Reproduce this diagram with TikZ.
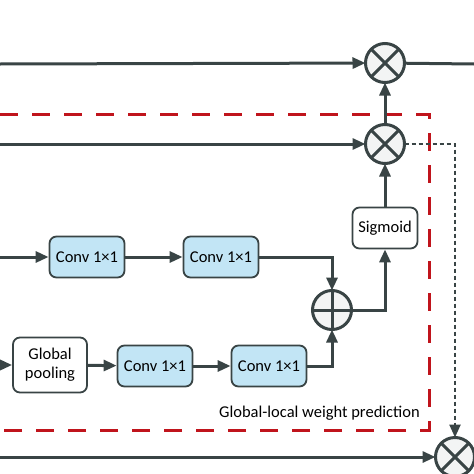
\documentclass[tikz,border=0pt]{standalone}
\usepackage{fontspec}
\setmainfont{Carlito}
\usetikzlibrary{arrows.meta}
\definecolor{ln}{HTML}{394445}
\definecolor{bluef}{HTML}{C2E5F5}
\definecolor{redd}{HTML}{C0141C}
\tikzset{
  flow/.style={draw=ln,line width=3pt,-{Triangle[length=13pt,width=11pt]}},
  plain/.style={draw=ln,line width=3pt},
  opnode/.style={circle,draw=ln,line width=3pt,fill=white!94!ln,minimum size=39pt,inner sep=0pt,outer sep=0pt},
  convbox/.style={rectangle,rounded corners=7pt,draw=ln,line width=1.8pt,fill=bluef,minimum width=75pt,minimum height=41pt,inner sep=1pt,font=\fontsize{16.5}{18}\selectfont},
  whitebox/.style={rectangle,rounded corners=7pt,draw=ln,line width=1.8pt,fill=white,minimum width=65pt,minimum height=41pt,inner sep=1pt,align=center,font=\fontsize{16.5}{19}\selectfont},
  reddash/.style={draw=redd,line width=3pt,dash pattern=on 18pt off 14pt},
  dotline/.style={draw=ln,line width=2.4pt,dash pattern=on 4pt off 3pt,-{Triangle[length=13pt,width=11pt]}}
}
\begin{document}
\begin{tikzpicture}[x=1pt,y=-1pt]
\useasboundingbox (0,0) rectangle (474,474);
% red dashed frame
\draw[reddash] (0,114) -- (429,114) -- (429,430) -- (0,430);
% nodes
\node[opnode] (m1) at (385,63) {};
\node[opnode] (m2) at (385,144) {};
\node[opnode] (m3) at (455,457) {};
\node[opnode] (p1) at (332,310) {};
\foreach \n in {m1,m2,m3}{
  \draw[ln,line width=3pt] (\n.north east) -- (\n.south west) (\n.north west) -- (\n.south east);
}
\draw[ln,line width=3pt] (p1.north) -- (p1.south) (p1.west) -- (p1.east);
\node[whitebox] (sig) at (385,228) {Sigmoid};
\node[convbox] (c1) at (87,257) {Conv 1×1};
\node[convbox] (c2) at (221,257) {Conv 1×1};
\node[whitebox,minimum width=74pt,minimum height=55pt] (gp) at (50,365) {Global\\pooling};
\node[convbox] (c3) at (155,366) {Conv 1×1};
\node[convbox] (c4) at (269,366) {Conv 1×1};
\node[anchor=south east,inner sep=0pt,font=\fontsize{16.5}{18}\selectfont] (lab) at (420,421) {Global-local weight prediction};
% free ends
\coordinate (in1) at (0,64);
\coordinate (out1) at (474,64);
\coordinate (in2) at (0,144);
\coordinate (in3) at (0,257);
\coordinate (in4) at (0,365);
\coordinate (in5) at (0,457);
% connectors
\draw[flow] (in1) -- (m1);
\draw[plain] (m1) -- (out1);
\draw[flow] (in2) -- (m2);
\draw[flow] (m2) -- (m1);
\draw[flow] (sig) -- (m2);
\draw[flow] (in3) -- (c1);
\draw[flow] (c1) -- (c2);
\draw[flow] (c2.east) -| (p1.north);
\draw[flow] (p1.east) -| (sig.south);
\draw[flow] (in4) -- (gp);
\draw[flow] (gp) -- (c3);
\draw[flow] (c3) -- (c4);
\draw[flow] (c4.east) -| (p1.south);
\draw[dotline] (m2.east) -| (m3.north);
\draw[flow] (in5) -- (m3);
\end{tikzpicture}
\end{document}
